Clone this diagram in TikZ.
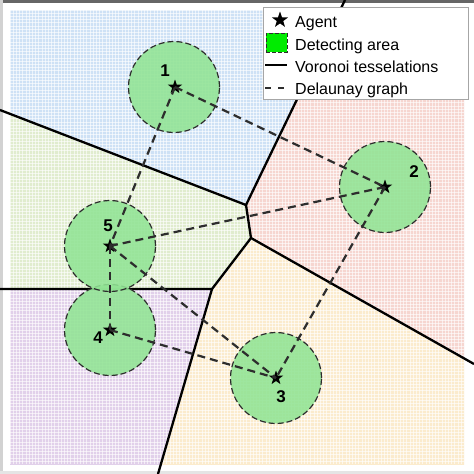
\documentclass[tikz,border=0pt]{standalone}
\usepackage{fontspec}
\setmainfont{Liberation Sans}
\usetikzlibrary{shapes.geometric}
\definecolor{rblue}{RGB}{206,225,245}
\definecolor{rpink}{RGB}{246,214,208}
\definecolor{rgreen}{RGB}{224,236,206}
\definecolor{rpurple}{RGB}{225,208,234}
\definecolor{rcream}{RGB}{251,235,205}
\definecolor{areagreen}{RGB}{145,228,148}
\definecolor{legendgreen}{RGB}{0,236,0}
\definecolor{dashgray}{RGB}{45,45,45}
\tikzset{
  agent/.style={star,star points=5,star point ratio=2.5,fill=black,inner sep=0pt,minimum size=15pt},
  area/.style={circle,minimum size=91pt,inner sep=0pt,fill=areagreen,fill opacity=0.88,draw=dashgray,line width=1.2pt,dash pattern=on 6pt off 3pt},
  vor/.style={line width=2.3pt,black},
  dela/.style={line width=2.2pt,dashgray,dash pattern=on 8pt off 5pt},
  num/.style={font=\fontsize{17}{20}\selectfont\bfseries,inner sep=0pt},
  legtext/.style={font=\fontsize{16}{19}\selectfont,anchor=base west,inner sep=0pt}
}
\begin{document}
\begin{tikzpicture}[x=1pt,y=-1pt]
\useasboundingbox (0,0) rectangle (474,474);
\fill[white] (0,0) rectangle (474,474);
\fill[gray!80!black] (0,0) rectangle (474,2.5);
\fill[gray!35] (0,0) rectangle (2.5,474);
\fill[gray!20] (0,471) rectangle (474,474);
% Voronoi vertices
\coordinate (A) at (0,110);
\coordinate (J) at (246,205);
\coordinate (T) at (345,0);
\coordinate (V2) at (251,238);
\coordinate (R) at (474,364);
\coordinate (V3) at (212,289);
\coordinate (L) at (0,289);
\coordinate (B) at (158,474);
% regions
\begin{scope}
\clip (10,10) rectangle (464,464);
\fill[rblue] (0,0) -- (T) -- (J) -- (A) -- cycle;
\fill[rpink] (T) -- (474,0) -- (R) -- (V2) -- (J) -- cycle;
\fill[rgreen] (A) -- (J) -- (V2) -- (V3) -- (L) -- cycle;
\fill[rpurple] (L) -- (V3) -- (B) -- (0,474) -- cycle;
\fill[rcream] (V3) -- (V2) -- (R) -- (474,474) -- (B) -- cycle;
\foreach \i in {10,13.2,...,464} {
  \draw[white,line width=0.8pt,opacity=0.6] (\i,10) -- (\i,464);
  \draw[white,line width=0.8pt,opacity=0.6] (10,\i) -- (464,\i);
}
\end{scope}
% Voronoi lines
\draw[vor] (A) -- (J) -- (T);
\draw[vor] (J) -- (V2) -- (R);
\draw[vor] (V2) -- (V3) -- (L);
\draw[vor] (V3) -- (B);
% detecting areas
\node[area] (c1) at (174,87) {};
\node[area] (c2) at (385,187) {};
\node[area] (c3) at (276,378) {};
\node[area] (c4) at (110,330) {};
\node[area] (c5) at (110,246) {};
% agents
\node[agent] (a1) at (175,87) {};
\node[agent] (a2) at (385,187) {};
\node[agent] (a3) at (276,378) {};
\node[agent] (a4) at (110,330) {};
\node[agent] (a5) at (110,246) {};
% Delaunay
\draw[dela] (a1.center) -- (a2.center);
\draw[dela] (a1.center) -- (a5.center);
\draw[dela] (a5.center) -- (a2.center);
\draw[dela] (a2.center) -- (a3.center);
\draw[dela] (a5.center) -- (a4.center);
\draw[dela] (a5.center) -- (a3.center);
\draw[dela] (a4.center) -- (a3.center);
% labels
\node[num] (n1) at (165,71) {1};
\node[num] (n2) at (414,172) {2};
\node[num] (n3) at (281,397) {3};
\node[num] (n4) at (98,338) {4};
\node[num] (n5) at (108,226) {5};
% legend
\node[draw=gray!70,line width=1pt,fill=white,minimum width=205pt,minimum height=92pt,inner sep=0pt,anchor=north west] (leg) at (263,7) {};
\node[agent,minimum size=17pt] (la) at (280,20) {};
\node[legtext] (lt1) at (295,27) {Agent};
\node[draw=dashgray,fill=legendgreen,line width=1pt,dash pattern=on 4pt off 2pt,minimum width=21pt,minimum height=19pt,inner sep=0pt] (lg) at (276.5,42.5) {};
\node[legtext] (lt2) at (295,50) {Detecting area};
\coordinate (lv1) at (265,65);
\coordinate (lv2) at (287,65);
\draw[vor,line width=2pt] (lv1) -- (lv2);
\node[legtext] (lt3) at (295,72) {Voronoi tesselations};
\coordinate (ld1) at (265,88);
\coordinate (ld2) at (287,88);
\draw[dela,line width=1.8pt,dash pattern=on 6pt off 7pt] (ld1) -- (ld2);
\node[legtext] (lt4) at (295,94.5) {Delaunay graph};
\end{tikzpicture}
\end{document}
